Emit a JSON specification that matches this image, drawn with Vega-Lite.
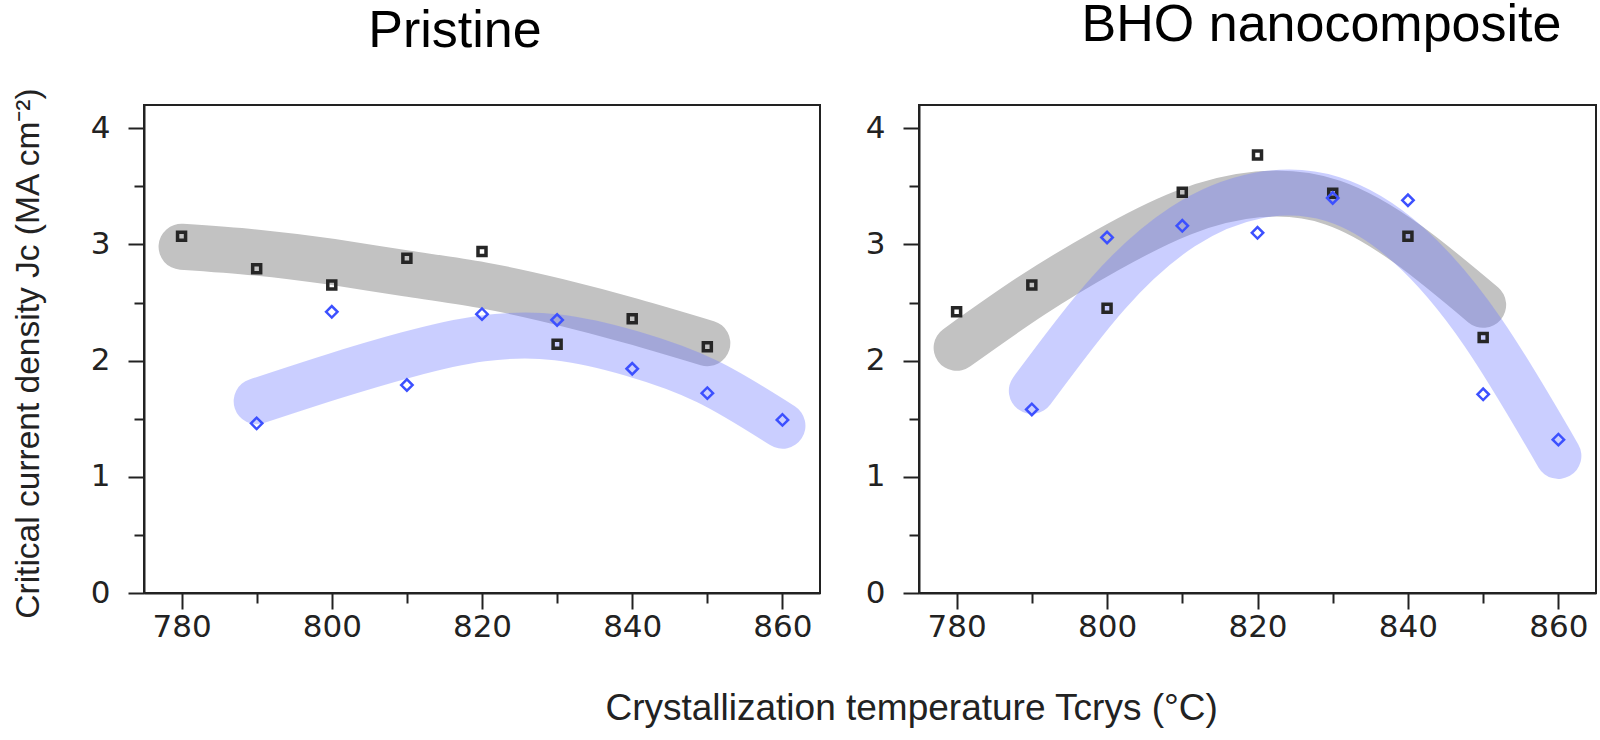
{
  "$schema": "https://vega.github.io/schema/vega-lite/v6.json",
  "background": "white",
  "padding": {"left": 10, "top": -2, "right": 6, "bottom": 4},
  "bounds": "flush",
  "spacing": 99,
  "config": {
    "font": "Liberation Sans",
    "view": {"stroke": "#222", "strokeWidth": 2},
    "axis": {
      "domainColor": "#222", "domainWidth": 2,
      "tickColor": "#222", "tickWidth": 2,
      "labelFont": "DejaVu Sans", "labelFontSize": 31, "labelColor": "#222",
      "labelOverlap": false, "labelBound": false, "labelFlush": false,
      "titleFont": "Liberation Sans", "titleFontSize": 33.5, "titleFontWeight": "normal", "titleColor": "#222",
      "grid": false
    }
  },
  "title": {
    "text": "Crystallization temperature Tcrys (°C)",
    "orient": "bottom", "anchor": "middle",
    "fontSize": 37, "fontWeight": "normal", "font": "Liberation Sans", "color": "#222",
    "offset": 48, "dx": 108
  },
  "datasets": {
    "pts": [
      {"p": "Pristine", "s": "a", "T": 780, "J": 3.07},
      {"p": "Pristine", "s": "a", "T": 790, "J": 2.79},
      {"p": "Pristine", "s": "a", "T": 800, "J": 2.65},
      {"p": "Pristine", "s": "a", "T": 810, "J": 2.88},
      {"p": "Pristine", "s": "a", "T": 820, "J": 2.94},
      {"p": "Pristine", "s": "a", "T": 830, "J": 2.14},
      {"p": "Pristine", "s": "a", "T": 840, "J": 2.36},
      {"p": "Pristine", "s": "a", "T": 850, "J": 2.12},
      {"p": "Pristine", "s": "b", "T": 790, "J": 1.46},
      {"p": "Pristine", "s": "b", "T": 800, "J": 2.42},
      {"p": "Pristine", "s": "b", "T": 810, "J": 1.79},
      {"p": "Pristine", "s": "b", "T": 820, "J": 2.40},
      {"p": "Pristine", "s": "b", "T": 830, "J": 2.35},
      {"p": "Pristine", "s": "b", "T": 840, "J": 1.93},
      {"p": "Pristine", "s": "b", "T": 850, "J": 1.72},
      {"p": "Pristine", "s": "b", "T": 860, "J": 1.49},
      {"p": "BHO", "s": "a", "T": 780, "J": 2.42},
      {"p": "BHO", "s": "a", "T": 790, "J": 2.65},
      {"p": "BHO", "s": "a", "T": 800, "J": 2.45},
      {"p": "BHO", "s": "a", "T": 810, "J": 3.45},
      {"p": "BHO", "s": "a", "T": 820, "J": 3.77},
      {"p": "BHO", "s": "a", "T": 830, "J": 3.44},
      {"p": "BHO", "s": "a", "T": 840, "J": 3.07},
      {"p": "BHO", "s": "a", "T": 850, "J": 2.20},
      {"p": "BHO", "s": "b", "T": 790, "J": 1.58},
      {"p": "BHO", "s": "b", "T": 800, "J": 3.06},
      {"p": "BHO", "s": "b", "T": 810, "J": 3.16},
      {"p": "BHO", "s": "b", "T": 820, "J": 3.10},
      {"p": "BHO", "s": "b", "T": 830, "J": 3.40},
      {"p": "BHO", "s": "b", "T": 840, "J": 3.38},
      {"p": "BHO", "s": "b", "T": 850, "J": 1.71},
      {"p": "BHO", "s": "b", "T": 860, "J": 1.32}
    ],
    "bands": [
      {"p": "Pristine", "s": "a", "T": 780, "J": 2.98},
      {"p": "Pristine", "s": "a", "T": 790, "J": 2.93},
      {"p": "Pristine", "s": "a", "T": 800, "J": 2.85},
      {"p": "Pristine", "s": "a", "T": 810, "J": 2.75},
      {"p": "Pristine", "s": "a", "T": 820, "J": 2.65},
      {"p": "Pristine", "s": "a", "T": 830, "J": 2.51},
      {"p": "Pristine", "s": "a", "T": 840, "J": 2.34},
      {"p": "Pristine", "s": "a", "T": 850, "J": 2.15},
      {"p": "Pristine", "s": "b", "T": 790, "J": 1.65},
      {"p": "Pristine", "s": "b", "T": 800, "J": 1.86},
      {"p": "Pristine", "s": "b", "T": 810, "J": 2.05},
      {"p": "Pristine", "s": "b", "T": 820, "J": 2.19},
      {"p": "Pristine", "s": "b", "T": 830, "J": 2.20},
      {"p": "Pristine", "s": "b", "T": 840, "J": 2.06},
      {"p": "Pristine", "s": "b", "T": 850, "J": 1.82},
      {"p": "Pristine", "s": "b", "T": 860, "J": 1.44},
      {"p": "BHO", "s": "a", "T": 780, "J": 2.11},
      {"p": "BHO", "s": "a", "T": 790, "J": 2.56},
      {"p": "BHO", "s": "a", "T": 800, "J": 2.95},
      {"p": "BHO", "s": "a", "T": 810, "J": 3.27},
      {"p": "BHO", "s": "a", "T": 820, "J": 3.43},
      {"p": "BHO", "s": "a", "T": 830, "J": 3.36},
      {"p": "BHO", "s": "a", "T": 840, "J": 3.00},
      {"p": "BHO", "s": "a", "T": 850, "J": 2.48},
      {"p": "BHO", "s": "b", "T": 790, "J": 1.74},
      {"p": "BHO", "s": "b", "T": 800, "J": 2.57},
      {"p": "BHO", "s": "b", "T": 810, "J": 3.15},
      {"p": "BHO", "s": "b", "T": 820, "J": 3.42},
      {"p": "BHO", "s": "b", "T": 830, "J": 3.39},
      {"p": "BHO", "s": "b", "T": 840, "J": 3.00},
      {"p": "BHO", "s": "b", "T": 850, "J": 2.24},
      {"p": "BHO", "s": "b", "T": 860, "J": 1.18}
    ]
  },
  "hconcat": [
    {
      "width": 676, "height": 488,
      "title": {"text": "Pristine", "fontSize": 52, "fontWeight": "normal", "font": "Liberation Sans", "color": "#000", "anchor": "middle", "baseline": "alphabetic", "offset": 0, "dy": 12, "dx": -27},
      "encoding": {
        "x": {"field": "T", "type": "quantitative",
              "scale": {"domain": [775, 865], "nice": false, "zero": false},
              "axis": {"title": null, "values": [780, 790, 800, 810, 820, 830, 840, 850, 860],
                       "labelExpr": "datum.value % 20 === 0 ? '' + datum.value : ''",
                       "tickSize": {"condition": {"test": "datum.value % 20 === 0", "value": 16}, "value": 10},
                       "labelPadding": 3}},
        "y": {"field": "J", "type": "quantitative",
              "scale": {"domain": [0, 4.2], "nice": false, "zero": false},
              "axis": {"title": "Critical current density Jc (MA cm⁻²)", "values": [0, 0.5, 1, 1.5, 2, 2.5, 3, 3.5, 4],
                       "labelExpr": "datum.value % 1 === 0 ? '' + datum.value : ''",
                       "tickSize": {"condition": {"test": "datum.value % 1 === 0", "value": 16}, "value": 10},
                       "labelPadding": 18, "titlePadding": 45, "titleY": 248}}
      },
      "layer": [
        {"data": {"name": "bands"}, "transform": [{"filter": "datum.p === 'Pristine' && datum.s === 'a'"}],
         "mark": {"type": "line", "stroke": "#c2c2c2", "strokeWidth": 46, "strokeCap": "round", "strokeJoin": "round", "interpolate": "natural"},
         "encoding": {"order": {"field": "T"}}},
        {"data": {"name": "bands"}, "transform": [{"filter": "datum.p === 'Pristine' && datum.s === 'b'"}],
         "mark": {"type": "line", "stroke": "#6e7bff", "strokeOpacity": 0.37, "strokeWidth": 46, "strokeCap": "round", "strokeJoin": "round", "interpolate": "natural"},
         "encoding": {"order": {"field": "T"}}},
        {"data": {"name": "pts"}, "transform": [{"filter": "datum.p === 'Pristine' && datum.s === 'a'"}],
         "mark": {"type": "point", "shape": "square", "filled": false, "stroke": "#262626", "strokeWidth": 3.5, "size": 64, "opacity": 1}},
        {"data": {"name": "pts"}, "transform": [{"filter": "datum.p === 'Pristine' && datum.s === 'b'"}],
         "mark": {"type": "point", "shape": "diamond", "filled": false, "stroke": "#3c50ff", "strokeWidth": 2.5, "size": 130, "opacity": 1}}
      ]
    },
    {
      "width": 677, "height": 488,
      "title": {"text": "BHO nanocomposite", "fontSize": 52, "fontWeight": "normal", "font": "Liberation Sans", "color": "#000", "anchor": "middle", "baseline": "alphabetic", "offset": 12, "dx": 64},
      "encoding": {
        "x": {"field": "T", "type": "quantitative",
              "scale": {"domain": [775, 865], "nice": false, "zero": false},
              "axis": {"title": null, "values": [780, 790, 800, 810, 820, 830, 840, 850, 860],
                       "labelExpr": "datum.value % 20 === 0 ? '' + datum.value : ''",
                       "tickSize": {"condition": {"test": "datum.value % 20 === 0", "value": 16}, "value": 10},
                       "labelPadding": 3}},
        "y": {"field": "J", "type": "quantitative",
              "scale": {"domain": [0, 4.2], "nice": false, "zero": false},
              "axis": {"title": null, "values": [0, 0.5, 1, 1.5, 2, 2.5, 3, 3.5, 4],
                       "labelExpr": "datum.value % 1 === 0 ? '' + datum.value : ''",
                       "tickSize": {"condition": {"test": "datum.value % 1 === 0", "value": 16}, "value": 10},
                       "labelPadding": 18}}
      },
      "layer": [
        {"data": {"name": "bands"}, "transform": [{"filter": "datum.p === 'BHO' && datum.s === 'a'"}],
         "mark": {"type": "line", "stroke": "#c2c2c2", "strokeWidth": 46, "strokeCap": "round", "strokeJoin": "round", "interpolate": "natural"},
         "encoding": {"order": {"field": "T"}}},
        {"data": {"name": "bands"}, "transform": [{"filter": "datum.p === 'BHO' && datum.s === 'b'"}],
         "mark": {"type": "line", "stroke": "#6e7bff", "strokeOpacity": 0.37, "strokeWidth": 46, "strokeCap": "round", "strokeJoin": "round", "interpolate": "natural"},
         "encoding": {"order": {"field": "T"}}},
        {"data": {"name": "pts"}, "transform": [{"filter": "datum.p === 'BHO' && datum.s === 'a'"}],
         "mark": {"type": "point", "shape": "square", "filled": false, "stroke": "#262626", "strokeWidth": 3.5, "size": 64, "opacity": 1}},
        {"data": {"name": "pts"}, "transform": [{"filter": "datum.p === 'BHO' && datum.s === 'b'"}],
         "mark": {"type": "point", "shape": "diamond", "filled": false, "stroke": "#3c50ff", "strokeWidth": 2.5, "size": 130, "opacity": 1}}
      ]
    }
  ]
}
